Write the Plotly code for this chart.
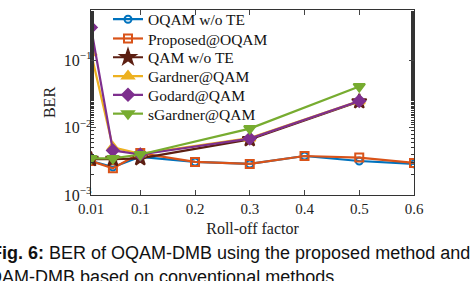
import plotly.graph_objects as go

x_oqam = [0.01, 0.05, 0.1, 0.2, 0.3, 0.4, 0.5, 0.6]
oqam_wo_te = [0.0032, 0.0026, 0.0037, 0.0031, 0.0029, 0.0038, 0.0032, 0.0029]
proposed_oqam = [0.0032, 0.0025, 0.0042, 0.0031, 0.0029, 0.0038, 0.0036, 0.0030]

x_qam = [0.01, 0.05, 0.1, 0.3, 0.5]
qam_wo_te = [0.0034, 0.0034, 0.0035, 0.0067, 0.0245]
gardner_qam = [0.13, 0.0051, 0.0041, 0.0070, 0.0250]
godard_qam = [0.31, 0.0046, 0.0040, 0.0069, 0.0250]
sgardner_qam = [0.0035, 0.0035, 0.0040, 0.0097, 0.041]

x_ticks = [0.01, 0.1, 0.2, 0.3, 0.4, 0.5, 0.6]
x_tick_labels = ["0.01", "0.1", "0.2", "0.3", "0.4", "0.5", "0.6"]
y_ticks = [1e-3, 1e-2, 1e-1]
y_tick_labels = ["10<sup>\u22123</sup>", "10<sup>\u22122</sup>", "10<sup>\u22121</sup>"]

series = [
    ("OQAM w/o TE", x_oqam, oqam_wo_te, "#0072BD", "circle-open", 7),
    ("Proposed@OQAM", x_oqam, proposed_oqam, "#D95319", "square-open", 8),
    ("QAM w/o TE", x_qam, qam_wo_te, "#5c1f12", "star", 11),
    ("Gardner@QAM", x_qam, gardner_qam, "#EDB120", "triangle-up", 10),
    ("Godard@QAM", x_qam, godard_qam, "#7E2F8E", "diamond", 9),
    ("sGardner@QAM", x_qam, sgardner_qam, "#77AC30", "triangle-down", 10),
]

serif = "Liberation Serif"
W, H = 474, 281
L, R, T, B = 91, 60, 3, 86
pw, ph = W - L - R, H - T - B


def px_x(p):
    return (p - L) / pw


def px_y(p):
    return (H - B - p) / ph


fig = go.Figure()
legend_layout = {}
row_centers = [13, 33, 52.5, 72, 91.5, 111]
for i, (name, xs, ys, col, sym, sz) in enumerate(series):
    key = "legend" if i == 0 else f"legend{i + 1}"
    fig.add_trace(go.Scatter(
        x=xs, y=ys, name=name, mode="lines+markers", legend=key,
        line=dict(color=col, width=2.2),
        marker=dict(symbol=sym, size=sz, color=col, line=dict(color=col, width=2)),
    ))
    legend_layout[key] = dict(
        x=px_x(108), y=px_y(row_centers[i]), xanchor="left", yanchor="middle",
        bgcolor="rgba(255,255,255,0)", borderwidth=0,
        font=dict(family=serif, size=15.5, color="#111"),
        itemwidth=30,
    )

fig.update_layout(
    width=W, height=H,
    margin=dict(l=L, r=R, t=T, b=B),
    paper_bgcolor="white", plot_bgcolor="white",
    font=dict(family=serif, size=15, color="#222"),
    showlegend=True,
    xaxis=dict(range=[0.01, 0.6], tickvals=x_ticks, ticktext=x_tick_labels,
               ticks="inside", ticklen=5, showline=True, linecolor="#333",
               linewidth=1.2, mirror="ticks", showgrid=False, zeroline=False,
               tickfont=dict(family=serif, size=15, color="#222"),
               title=dict(text="Roll-off factor", font=dict(family=serif, size=16, color="#222"), standoff=6)),
    yaxis=dict(type="log", range=[-3, -0.25], tickvals=y_ticks, ticktext=y_tick_labels,
               ticks="inside", ticklen=5, showline=True, linecolor="#333",
               linewidth=1.2, mirror="ticks", showgrid=False, zeroline=False,
               ticklabelstandoff=-5,
               minor=dict(ticks="inside", ticklen=3, tickcolor="#333", showgrid=False),
               tickfont=dict(family=serif, size=16, color="#222"),
               title=dict(text="BER", font=dict(family=serif, size=16, color="#222"), standoff=4)),
    **legend_layout,
)

fig.add_annotation(
    xref="paper", yref="paper", x=px_x(-11), y=px_y(255),
    xanchor="left", yanchor="middle", showarrow=False,
    text="<b>Fig. 6:</b> BER of OQAM-DMB using the proposed method and",
    font=dict(family="Liberation Sans", size=18, color="#111"),
)
fig.add_annotation(
    xref="paper", yref="paper", x=px_x(336), y=px_y(280),
    xanchor="right", yanchor="middle", showarrow=False,
    text="OQAM-DMB based on conventional methods",
    font=dict(family="Liberation Sans", size=18, color="#111"),
)

fig.write_html("out.html")
